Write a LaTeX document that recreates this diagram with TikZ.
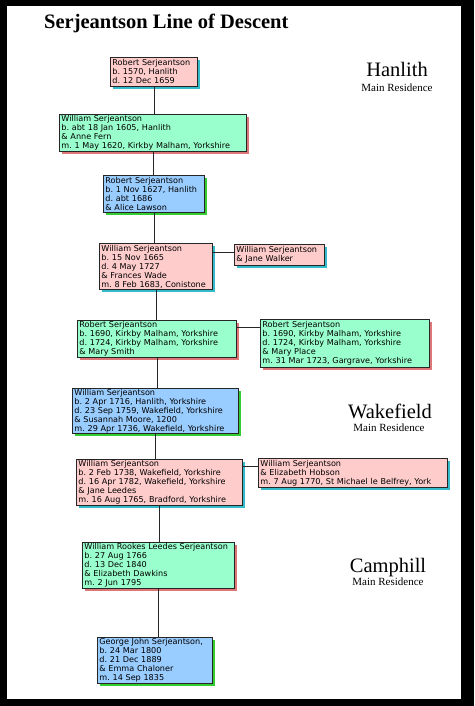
\documentclass[tikz,border=0pt]{standalone}
\usepackage{fontspec}
\setmainfont{Liberation Serif}
\newfontfamily\boxfont[WordSpace=1.3]{DejaVu Sans}
\usetikzlibrary{shadows}

\definecolor{pinkfill}{HTML}{FFCCCC}
\definecolor{greenfill}{HTML}{99FFCC}
\definecolor{bluefill}{HTML}{99CCFF}
\definecolor{cyanshade}{HTML}{33BBCC}
\definecolor{redshade}{HTML}{DD7777}
\definecolor{greenshade}{HTML}{33CC33}

\tikzset{
  person/.style={draw=black!85, line width=0.9pt, anchor=north west,
    inner xsep=2pt, inner ysep=0.5pt, align=left,
    font=\boxfont\fontsize{8.1}{9}\selectfont\frenchspacing},
  pinkbox/.style={person, fill=pinkfill,
    drop shadow={shadow xshift=3pt, shadow yshift=-3pt, fill=cyanshade, opacity=1}},
  greenbox/.style={person, fill=greenfill,
    drop shadow={shadow xshift=3pt, shadow yshift=-3pt, fill=redshade, opacity=1}},
  bluebox/.style={person, fill=bluefill,
    drop shadow={shadow xshift=3pt, shadow yshift=-3pt, fill=greenshade, opacity=1}},
  place/.style={anchor=base, inner sep=0pt, font=\fontsize{20.5}{24}\selectfont},
  residence/.style={anchor=base, inner sep=0pt, font=\fontsize{11}{13}\selectfont},
  descent/.style={draw=black!85, line width=0.8pt},
}

\begin{document}
\begin{tikzpicture}[x=1pt, y=-1pt]
	% frame
	\useasboundingbox (0,0) rectangle (474,706);
	\fill[black] (0,0) rectangle (474,706);
	\fill[white] (7,6) rectangle (461,699);

	% title and residences
	\node[anchor=base west, inner sep=0pt, font=\bfseries\fontsize{20.5}{24}\selectfont] (title) at (44,29) {Serjeantson Line of Descent};
	\node[place] (hanlith) at (397,77) {Hanlith};
	\node[residence] (hanlithres) at (397,92) {Main Residence};
	\node[place] (wakefield) at (390,418) {Wakefield};
	\node[residence] (wakefieldres) at (389,431) {Main Residence};
	\node[place] (camphill) at (388,572) {Camphill};
	\node[residence] (camphillres) at (388,585) {Main Residence};

	% line of descent
	\node[pinkbox, text width=83pt, minimum height=29pt] (robert1570) at (110,57)
		{Robert Serjeantson\\b. 1570, Hanlith\\d. 12 Dec 1659};
	\node[greenbox, text width=183pt, minimum height=37pt] (william1605) at (59,114)
		{William Serjeantson\\b. abt 18 Jan 1605, Hanlith\\\& Anne Fern\\m. 1 May 1620, Kirkby Malham, Yorkshire};
	\node[bluebox, text width=97pt, minimum height=37pt] (robert1627) at (103,175)
		{Robert Serjeantson\\b. 1 Nov 1627, Hanlith\\d. abt 1686\\\& Alice Lawson};
	\node[pinkbox, text width=109pt, minimum height=46pt] (william1665) at (99,243)
		{William Serjeantson\\b. 15 Nov 1665\\d. 4 May 1727\\\& Frances Wade\\m. 8 Feb 1683, Conistone};
	\node[greenbox, text width=155pt, minimum height=37pt] (robert1690) at (77,320)
		{Robert Serjeantson\\b. 1690, Kirkby Malham, Yorkshire\\d. 1724, Kirkby Malham, Yorkshire\\\& Mary Smith};
	\node[bluebox, text width=162pt, minimum height=45pt] (william1716) at (72,388)
		{William Serjeantson\\b. 2 Apr 1716, Hanlith, Yorkshire\\d. 23 Sep 1759, Wakefield, Yorkshire\\\& Susannah Moore, 1200\\m. 29 Apr 1736, Wakefield, Yorkshire};
	\node[pinkbox, text width=162pt, minimum height=46pt] (william1738) at (76,459)
		{William Serjeantson\\b. 2 Feb 1738, Wakefield, Yorkshire\\d. 16 Apr 1782, Wakefield, Yorkshire\\\& Jane Leedes\\m. 16 Aug 1765, Bradford, Yorkshire};
	\node[greenbox, text width=148pt, minimum height=46pt] (william1766) at (82,542)
		{William Rookes Leedes Serjeantson\\b. 27 Aug 1766\\d. 13 Dec 1840\\\& Elizabeth Dawkins\\m. 2 Jun 1795};
	\node[bluebox, text width=111pt, minimum height=46pt] (george1800) at (97,637)
		{George John Serjeantson,\\b. 24 Mar 1800\\d. 21 Dec 1889\\\& Emma Chaloner\\m. 14 Sep 1835};

	% other marriages
	\node[pinkbox, text width=86pt, minimum height=21pt] (williamwalker) at (234,244)
		{William Serjeantson\\\& Jane Walker};
	\node[greenbox, text width=165pt, minimum height=48pt] (robertplace) at (260,319)
		{Robert Serjeantson\\b. 1690, Kirkby Malham, Yorkshire\\d. 1724, Kirkby Malham, Yorkshire\\\& Mary Place\\m. 31 Mar 1723, Gargrave, Yorkshire};
	\node[pinkbox, text width=185pt, minimum height=29pt] (williamhobson) at (258,458)
		{William Serjeantson\\\& Elizabeth Hobson\\m. 7 Aug 1770, St Michael le Belfrey, York};

	% connectors
	\foreach \upper/\lower in {robert1570/william1605, william1605/robert1627, robert1627/william1665,
		william1665/robert1690, robert1690/william1716, william1716/william1738,
		william1738/william1766, william1766/george1800}
		\draw[descent] (\upper.south) -- (\upper.south |- \lower.north);
	\foreach \main/\side in {william1665/williamwalker, robert1690/robertplace, william1738/williamhobson} {
		\path ([yshift=-8pt]\side.north west) coordinate (link);
		\draw[descent] (link) -- (link -| \main.east);
	}
\end{tikzpicture}
\end{document}
